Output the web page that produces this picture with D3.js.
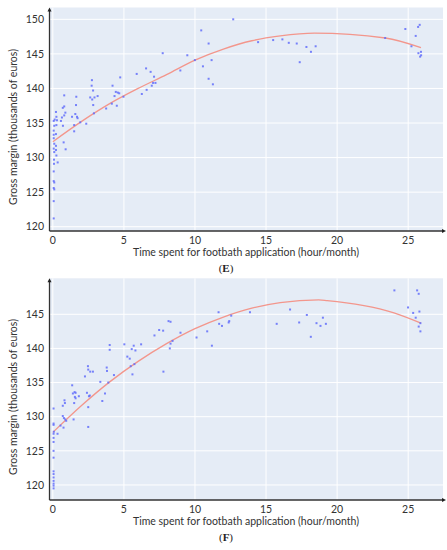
<!DOCTYPE html>
<html><head><meta charset="utf-8">
<script src="https://cdn.jsdelivr.net/npm/d3@7"></script>
<style>body{margin:0;background:#fff}svg{display:block}</style>
</head><body><svg id="c" width="447" height="550"></svg>
<script>
const xTicks = [0, 5, 10, 15, 20, 25];
const yTicksTop = [120, 125, 130, 135, 140, 145, 150];
const yTicksBottom = [120, 125, 130, 135, 140, 145];
const xTitle = "Time spent for footbath application (hour/month)";
const yTitle = "Gross margin (thousands of euros)";
const panelLabels = ["E", "F"];

const topX = [0.06,0.06,0.1,0.06,0.1,0.06,0.06,0.08,0.08,0.34,0.25,0.1,0.22,0.06,0.22,0.1,0.06,0.22,0.06,0.06,0.1,0.25,0.29,0.06,0.13,0.25,0.22,0.57,0.64,0.7,0.8,0.88,0.8,0.71,0.76,0.9,0.8,1.35,1.5,1.5,1.58,1.63,1.65,1.7,1.74,1.93,2.35,2.63,2.73,2.75,2.83,2.77,2.84,2.89,2.93,3.15,3.75,4.15,4.2,4.34,4.43,4.5,4.57,4.67,4.74,4.97,5.9,6.26,6.56,6.6,6.88,6.96,7.05,7.12,7.22,7.73,8.97,9.46,9.99,10.44,10.56,10.96,10.96,11.17,11.26,12.69,14.44,15.5,16.15,16.6,17.16,17.37,17.84,18.16,18.49,23.38,24.8,25.23,25.53,25.7,25.81,25.72,25.9,25.84,25.91];
const topY = [121.2,123.7,125.4,125.6,126.4,126.6,128.0,129.1,129.7,129.3,130.3,130.8,131.1,131.3,131.7,132.0,132.8,133.4,133.3,133.9,134.6,134.7,135.4,135.3,135.5,135.9,136.6,135.3,135.8,137.2,137.4,136.5,136.1,134.6,132.2,131.2,139.0,135.9,134.7,133.8,136.3,137.6,138.8,135.9,135.7,135.1,134.9,138.7,140.4,141.2,139.7,138.4,137.6,136.4,138.7,138.9,137.1,137.8,140.4,138.9,139.5,137.5,139.4,139.3,141.6,138.8,142.1,139.2,142.9,139.8,142.4,140.4,140.8,141.7,140.8,145.1,142.6,144.8,144.1,148.4,143.2,146.5,141.4,144.1,140.6,150.0,146.7,147.0,147.1,146.6,146.5,143.8,146.0,145.3,146.1,147.3,148.6,146.1,147.6,148.9,149.2,145.1,145.3,144.6,144.8];
const topFitX = [0, 2, 4, 6, 8, 10, 12, 14, 16, 18.4, 23.4, 25.9];
const topFitY = [132.3, 135.2, 137.8, 140.0, 142.0, 144.1, 145.7, 146.9, 147.6, 148.0, 147.3, 145.9];

const bottomX = [0.05,0.05,0.05,0.05,0.05,0.05,0.05,0.05,0.05,0.05,0.05,0.05,0.07,0.05,0.05,0.05,0.33,0.54,0.7,0.75,0.7,0.78,0.87,0.82,0.85,0.94,1.36,1.41,1.5,1.53,1.6,1.55,1.6,1.46,1.83,2.26,2.4,2.47,2.49,2.54,2.6,2.49,2.49,2.63,2.82,3.34,3.48,3.67,3.79,3.81,3.9,4.0,4.0,4.3,5.03,5.24,5.41,5.48,5.55,5.6,5.69,5.74,5.81,6.21,7.15,7.48,7.76,7.78,8.14,8.28,8.23,8.28,8.42,8.98,10.11,10.86,11.19,11.66,11.7,11.9,12.37,12.41,12.55,13.87,15.75,16.69,17.33,17.87,18.15,18.55,18.83,19.0,19.21,24.03,24.99,25.35,25.53,25.63,25.74,25.79,25.74,25.86,25.86];
const bottomY = [119.5,119.9,120.2,120.6,121.1,121.6,122.0,124.0,125.0,126.3,126.9,127.5,127.8,128.8,129.0,131.2,127.5,128.7,131.6,128.4,130.1,129.8,129.6,132.4,132.0,129.4,134.6,133.4,132.0,133.6,133.5,132.9,132.7,129.6,133.0,135.9,133.5,137.4,136.9,133.0,133.1,131.4,128.5,136.6,136.6,135.1,132.3,133.4,137.2,136.7,135.0,140.5,139.8,136.1,140.6,138.8,138.5,137.4,139.9,136.2,140.4,137.7,139.7,140.6,141.9,142.7,142.6,136.6,144.0,143.9,140.0,140.7,141.1,142.3,141.6,142.5,140.4,145.3,143.6,143.3,143.8,144.0,144.8,145.3,143.6,145.7,143.8,144.9,141.7,143.7,143.3,144.5,143.6,148.5,146.0,145.2,144.5,148.5,148.0,145.4,143.2,143.7,142.5];
const bottomFitX = [0, 2, 4, 6, 8, 10, 12, 14, 16, 18.7, 19.3, 24, 25.9];
const bottomFitY = [127.7, 131.6, 135.1, 138.1, 140.7, 142.9, 144.6, 145.9, 146.7, 147.1, 147.0, 145.2, 143.7];

const svg = d3.select("#c");
const FONT = "Lato, 'Open Sans', sans-serif";

function panel(cfg) {
  const g = svg.append("g");
  const x = d3.scaleLinear().domain([-0.2, 27.45]).range([50, 443]);
  const y = d3.scaleLinear().domain(cfg.yDomain).range([cfg.bottom, cfg.top]);
  g.append("rect").attr("x", 50).attr("y", cfg.top).attr("width", 393).attr("height", cfg.bottom - cfg.top).attr("fill", "#e5ecf6");
  g.append("g").selectAll("line").data(cfg.yTicks).join("line")
    .attr("x1", 50).attr("x2", 443).attr("y1", d => y(d)).attr("y2", d => y(d))
    .attr("stroke", "#fff").attr("stroke-width", 1);
  g.append("g").selectAll("line").data(xTicks).join("line")
    .attr("x1", d => x(d)).attr("x2", d => x(d)).attr("y1", cfg.top).attr("y2", cfg.bottom)
    .attr("stroke", "#fff").attr("stroke-width", 1);
  const fit = cfg.fitX.map((v, i) => [v, cfg.fitY[i]]);
  g.append("path").datum(fit)
    .attr("d", d3.line().x(d => x(d[0])).y(d => y(d[1])).curve(d3.curveMonotoneX))
    .attr("fill", "none").attr("stroke", "#f3968c").attr("stroke-width", 1.3);
  const pts = cfg.px.map((v, i) => [v, cfg.py[i]]);
  g.append("g").selectAll("rect").data(pts).join("rect")
    .attr("x", d => x(d[0]) - 1).attr("y", d => y(d[1]) - 1)
    .attr("width", 2).attr("height", 2).attr("fill", "#636efa").attr("opacity", 0.85);
  const ax = g.append("g").attr("stroke", "#333").attr("stroke-width", 1.3);
  ax.append("line").attr("x1", 49.5).attr("x2", 49.5).attr("y1", cfg.top + 2).attr("y2", cfg.bottom);
  ax.append("line").attr("x1", 49.5).attr("x2", 443).attr("y1", cfg.bottom).attr("y2", cfg.bottom);
  g.append("path").attr("d", `M49.5,${cfg.top} l-2,4 l4,0 z`).attr("fill", "#222");
  g.append("path").attr("d", `M446,${cfg.bottom} l-4,-2 l0,4 z`).attr("fill", "#222");
  g.append("g").selectAll("text").data(cfg.yTicks).join("text")
    .attr("x", 44).attr("y", d => y(d)).attr("dy", "0.35em").attr("text-anchor", "end")
    .attr("font-family", FONT).attr("font-size", 10.5).attr("fill", "#333").text(d => d);
  g.append("g").selectAll("text").data(xTicks).join("text")
    .attr("x", d => x(d)).attr("y", cfg.bottom + 12.5).attr("text-anchor", "middle")
    .attr("font-family", FONT).attr("font-size", 10.5).attr("fill", "#333").text(d => d);
  g.append("text").attr("x", 246).attr("y", cfg.bottom + 25).attr("text-anchor", "middle")
    .attr("font-family", FONT).attr("font-size", 10.5).attr("fill", "#333").text(xTitle);
  g.append("text").attr("transform", `translate(17,${cfg.yTitleY}) rotate(-90)`).attr("text-anchor", "middle")
    .attr("font-family", FONT).attr("font-size", 10.5).attr("fill", "#333").text(yTitle);
  const lab = g.append("text").attr("x", 226).attr("y", cfg.bottom + 40.5).attr("text-anchor", "middle")
    .attr("font-family", "'Liberation Serif', serif").attr("font-size", 11).attr("fill", "#222");
  lab.append("tspan").text("(");
  lab.append("tspan").attr("font-weight", "bold").text(cfg.label);
  lab.append("tspan").text(")");
}

panel({ top: 7.5, bottom: 231, yDomain: [119.38, 151.71], yTicks: yTicksTop, px: topX, py: topY,
        fitX: topFitX, fitY: topFitY, yTitleY: 127, label: panelLabels[0] });
panel({ top: 278.3, bottom: 500, yDomain: [117.8, 150.27], yTicks: yTicksBottom, px: bottomX, py: bottomY,
        fitX: bottomFitX, fitY: bottomFitY, yTitleY: 397, label: panelLabels[1] });
</script></body></html>
